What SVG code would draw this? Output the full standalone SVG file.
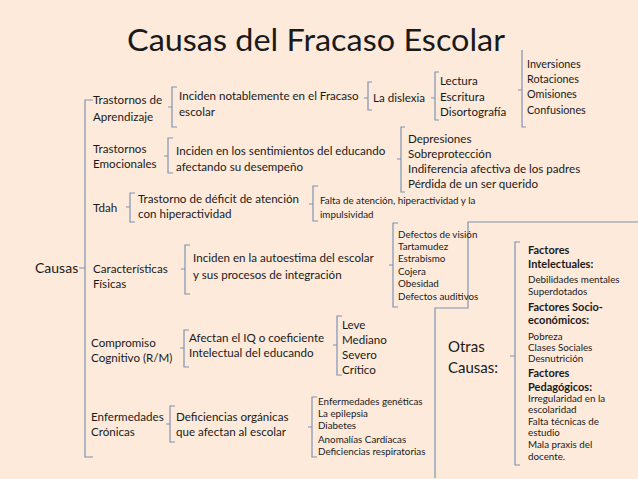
<svg xmlns="http://www.w3.org/2000/svg" width="638" height="479" viewBox="0 0 638 479">
<style>
text{font-family:Lato,"Open Sans",sans-serif;fill:#1a1a1a;font-size:11.6px}
.s{font-size:9.8px}.b{font-weight:bold;font-size:11px}.m{font-size:10.8px}
.br{fill:none;stroke:#7f93b3;stroke-width:1.2}
</style>
<rect width="638" height="479" fill="#fdeada"/>
<text x="316" y="51" text-anchor="middle" style="font-size:31px" textLength="378" lengthAdjust="spacingAndGlyphs">Causas del Fracaso Escolar</text>
<g id="connectors" class="br">
<path d="M93 100H85V457H93M85 268H79"/>
<path d="M177 87H172V127H177M172 107H168"/>
<path d="M372 82H368V110H372M368 98H364"/>
<path d="M439 72H435V120H439M435 98H431"/>
<path d="M522 50V127H526M522 90H518"/>
<path d="M173 138H168V173H173M168 156H164"/>
<path d="M405 127H401V192H405M401 159H397"/>
<path d="M135 193H130V222H135M130 207H126"/>
<path d="M318 186H313V221H318M313 204H309"/>
<path d="M398 223H393V307H398M393 265H389"/>
<path d="M190 245H185V294H190M185 269H181"/>
<path d="M189 330H184V367H189M184 348H180"/>
<path d="M342 316H337V375H342M337 345H333"/>
<path d="M175 406H170V442H175M170 424H166"/>
<path d="M317 397H312V457H317M312 427H308"/>
<path d="M520 242H515V465H520M515 356H510"/>
<path d="M435 478V308H468V222H638"/>
</g>
<g id="causas"><text x="35" y="273" style="font-size:14px">Causas</text></g>
<g id="aprendizaje"><text x="93" y="104">Trastornos de</text><text x="93" y="121">Aprendizaje</text></g>
<g id="incide1"><text x="179" y="100">Inciden notablemente en el Fracaso</text><text x="179" y="116">escolar</text></g>
<g id="dislexia"><text x="373" y="102">La dislexia</text></g>
<g id="lectura"><text x="440" y="85">Lectura</text><text x="440" y="101">Escritura</text><text x="440" y="116">Disortografía</text></g>
<g id="inversiones"><text x="527" y="68" class="m">Inversiones</text><text x="527" y="83" class="m">Rotaciones</text><text x="527" y="98" class="m">Omisiones</text><text x="527" y="114" class="m">Confusiones</text></g>
<g id="emocionales"><text x="93" y="153">Trastornos</text><text x="93" y="168">Emocionales</text></g>
<g id="incide2"><text x="176" y="155">Inciden en los sentimientos del educando</text><text x="176" y="171">afectando su desempeño</text></g>
<g id="depresiones"><text x="408" y="143">Depresiones</text><text x="408" y="158">Sobreprotección</text><text x="408" y="173">Indiferencia afectiva de los padres</text><text x="408" y="188">Pérdida de un ser querido</text></g>
<g id="tdah"><text x="93" y="212">Tdah</text></g>
<g id="trastornodeficit"><text x="138" y="203">Trastorno de déficit de atención</text><text x="138" y="218">con hiperactividad</text></g>
<g id="falta"><text x="320" y="204" class="s">Falta de atención, hiperactividad y la</text><text x="320" y="218" class="s">impulsividad</text></g>
<g id="fisicas"><text x="93" y="273">Características</text><text x="93" y="288">Físicas</text></g>
<g id="autoestima"><text x="193" y="262">Inciden en la autoestima del escolar</text><text x="193" y="279">y sus procesos de integración</text></g>
<g id="defectos"><text x="398" y="238" class="s">Defectos de visión</text><text x="398" y="250" class="s">Tartamudez</text><text x="398" y="262" class="s">Estrabismo</text><text x="398" y="275" class="s">Cojera</text><text x="398" y="287" class="s">Obesidad</text><text x="398" y="300" class="s">Defectos auditivos</text></g>
<g id="cognitivo"><text x="91" y="347">Compromiso</text><text x="91" y="362">Cognitivo  (R/M)</text></g>
<g id="iq"><text x="189" y="342">Afectan el IQ o coeficiente</text><text x="189" y="357">Intelectual del educando</text></g>
<g id="grados"><text x="342" y="329">Leve</text><text x="342" y="344">Mediano</text><text x="342" y="359">Severo</text><text x="342" y="374">Crítico</text></g>
<g id="cronicas"><text x="91" y="421">Enfermedades</text><text x="91" y="436">Crónicas</text></g>
<g id="organicas"><text x="176" y="421">Deficiencias orgánicas</text><text x="176" y="436">que afectan al escolar</text></g>
<g id="enfermedades"><text x="318" y="405" class="s">Enfermedades genéticas</text><text x="318" y="417" class="s">La epilepsia</text><text x="318" y="429" class="s">Diabetes</text><text x="318" y="443" class="s">Anomalías Cardíacas</text><text x="318" y="455" class="s">Deficiencias respiratorias</text></g>
<g id="otras"><text x="448" y="352" style="font-size:15px">Otras</text><text x="448" y="373" style="font-size:15px">Causas:</text></g>
<g id="factores">
<text x="528" y="254" class="b">Factores</text>
<text x="528" y="268" class="b">Intelectuales:</text>
<text x="528" y="283" class="s">Debilidades mentales</text>
<text x="528" y="295" class="s">Superdotados</text>
<text x="528" y="311" class="b">Factores Socio-</text>
<text x="528" y="324" class="b">económicos:</text>
<text x="528" y="340" class="s">Pobreza</text>
<text x="528" y="351" class="s">Clases Sociales</text>
<text x="528" y="362" class="s">Desnutrición</text>
<text x="528" y="377" class="b">Factores</text>
<text x="528" y="391" class="b">Pedagógicos:</text>
<text x="528" y="402" class="s">Irregularidad en la</text>
<text x="528" y="413" class="s">escolaridad</text>
<text x="528" y="425" class="s">Falta técnicas de</text>
<text x="528" y="436" class="s">estudio</text>
<text x="528" y="448" class="s">Mala praxis del</text>
<text x="528" y="460" class="s">docente.</text>
</g>
</svg>
